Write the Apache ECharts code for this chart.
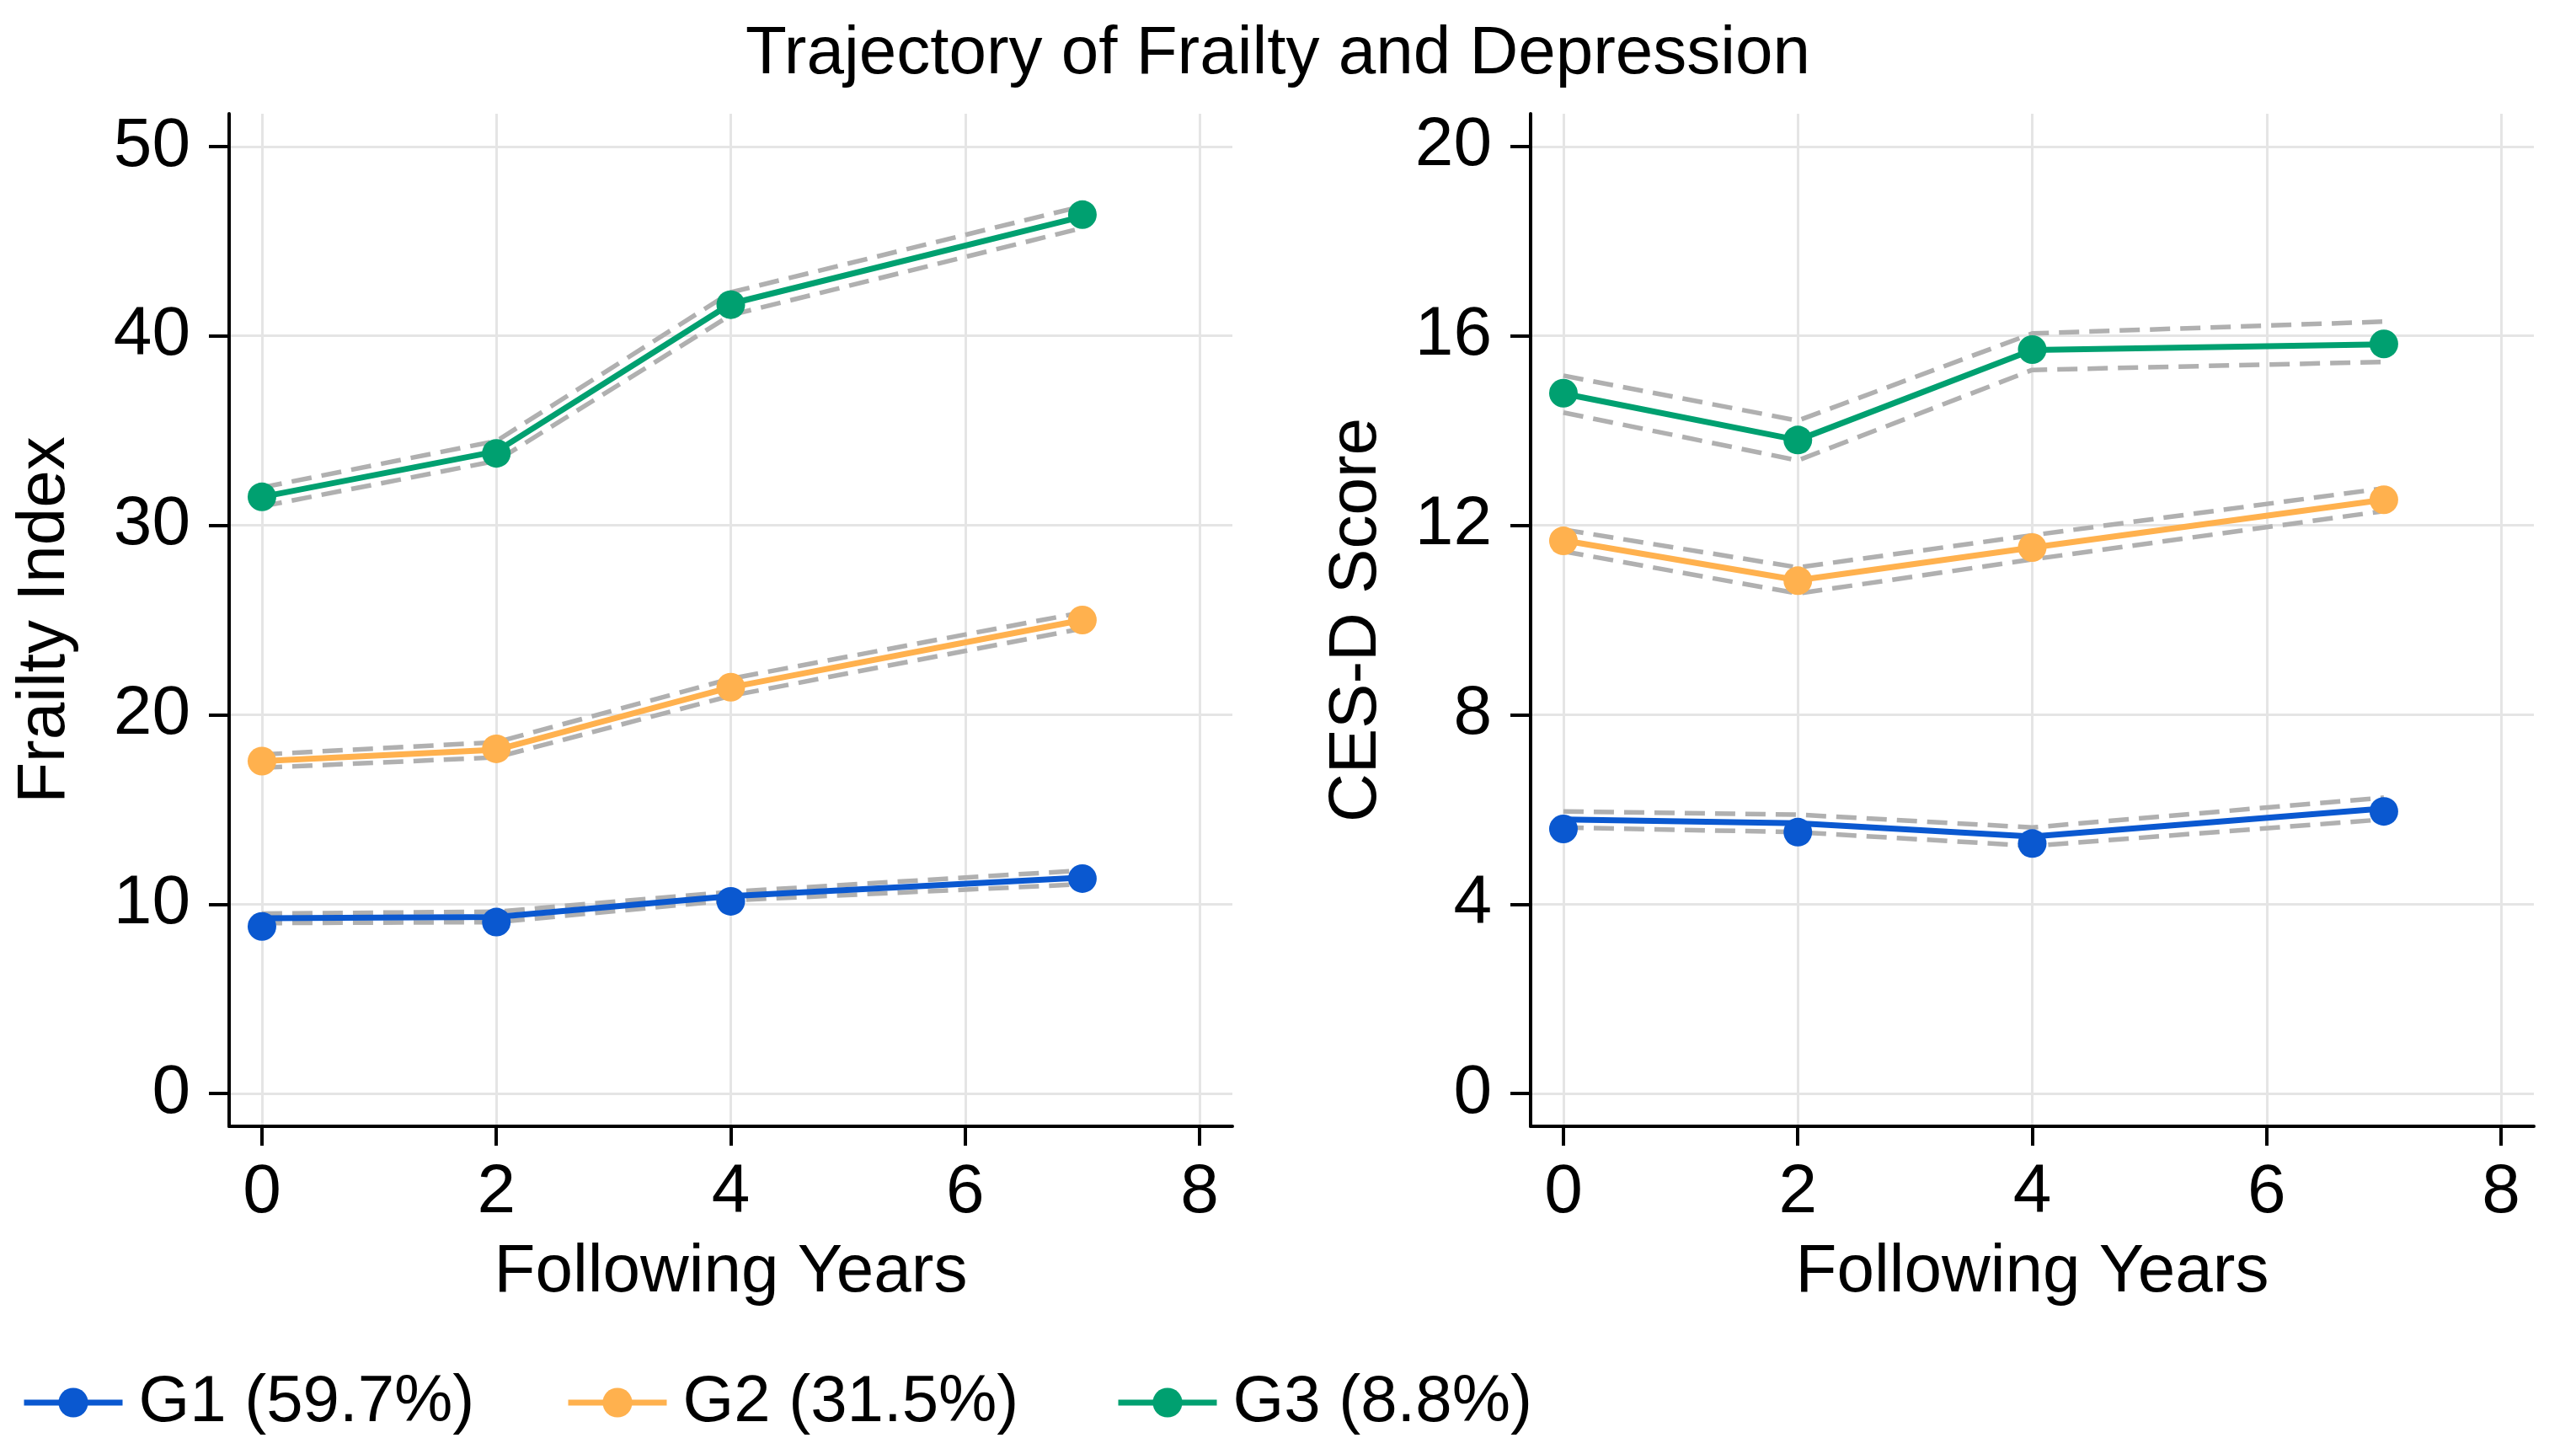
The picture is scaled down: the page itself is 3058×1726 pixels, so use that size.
<!DOCTYPE html>
<html>
<head>
<meta charset="utf-8">
<script src="https://cdn.jsdelivr.net/npm/echarts@6/dist/echarts.min.js"></script>
<style>
html,body{margin:0;padding:0;background:#fff;}
#chart{width:3058px;height:1726px;}
</style>
</head>
<body>
<div id="chart"></div>
<script>
// ---- data ----
const years = [0, 2, 4, 7];
const xTicks = [0, 2, 4, 6, 8];
const fiTicks = [0, 10, 20, 30, 40, 50];
const cesTicks = [0, 4, 8, 12, 16, 20];
const groupNames = ['G1 (59.7%)', 'G2 (31.5%)', 'G3 (8.8%)'];

// Frailty Index: observed means, fitted trajectory, 95% CI
const fiG1Obs = [8.82, 9.05, 10.15, 11.35];
const fiG1Fit = [9.25, 9.32, 10.42, 11.4];
const fiG1Up = [9.5, 9.6, 10.65, 11.78];
const fiG1Lo = [9.0, 9.05, 10.2, 11.05];
const fiG2Obs = [17.55, 18.2, 21.45, 25.0];
const fiG2Fit = [17.55, 18.15, 21.45, 25.0];
const fiG2Up = [17.9, 18.55, 21.9, 25.4];
const fiG2Lo = [17.2, 17.75, 21.0, 24.55];
const fiG3Obs = [31.5, 33.8, 41.65, 46.4];
const fiG3Fit = [31.5, 33.9, 41.7, 46.3];
const fiG3Up = [32.0, 34.45, 42.3, 46.85];
const fiG3Lo = [31.0, 33.4, 41.1, 45.7];

// CES-D Score
const cesG1Obs = [5.59, 5.52, 5.28, 5.96];
const cesG1Fit = [5.79, 5.71, 5.43, 6.02];
const cesG1Up = [5.96, 5.89, 5.62, 6.25];
const cesG1Lo = [5.62, 5.52, 5.23, 5.79];
const cesG2Obs = [11.67, 10.83, 11.53, 12.54];
const cesG2Fit = [11.68, 10.84, 11.53, 12.54];
const cesG2Up = [11.91, 11.11, 11.79, 12.78];
const cesG2Lo = [11.45, 10.56, 11.28, 12.30];
const cesG3Obs = [14.79, 13.80, 15.71, 15.83];
const cesG3Fit = [14.78, 13.8, 15.7, 15.82];
const cesG3Up = [15.16, 14.21, 16.05, 16.30];
const cesG3Lo = [14.38, 13.37, 15.28, 15.45];

// ---- styling ----
const colors = ['#0a58d0', '#ffb14e', '#00a070'];
const FONT = 'Liberation Sans, Arial, sans-serif';
const pair = (arr) => years.map((x, i) => [x, arr[i]]);

function xAxisFor(gi) {
  return {
    type: 'value', gridIndex: gi, min: -0.28, max: 8.28,
    axisLine: { onZero: false, lineStyle: { color: '#000', width: 4 } },
    axisTick: { show: true, inside: false, length: 23, customValues: xTicks, lineStyle: { color: '#000', width: 4 } },
    axisLabel: { customValues: xTicks, fontSize: 82, color: '#000', margin: 38, fontFamily: FONT },
    splitLine: { show: true, lineStyle: { color: '#e5e5e5', width: 3 } },
    name: 'Following Years', nameLocation: 'middle', nameGap: 134,
    nameTextStyle: { fontSize: 80, color: '#000', fontFamily: FONT }
  };
}
function yAxisFor(gi, min, max, ticks, name, gap) {
  return {
    type: 'value', gridIndex: gi, min: min, max: max,
    axisLine: { show: true, onZero: false, lineStyle: { color: '#000', width: 4 } },
    axisTick: { show: true, inside: false, length: 24, customValues: ticks, lineStyle: { color: '#000', width: 4 } },
    axisLabel: { customValues: ticks, fontSize: 82, color: '#000', margin: 46, fontFamily: FONT },
    splitLine: { show: true, lineStyle: { color: '#e5e5e5', width: 3 } },
    name: name, nameLocation: 'middle', nameGap: gap, nameRotate: 90,
    nameTextStyle: { fontSize: 80, color: '#000', fontFamily: FONT }
  };
}

const series = [];
function addGroup(gi, gIdx, obs, fit, up, lo) {
  const ciStyle = { color: '#b0b0b0', width: 5.5, type: [24, 12] };
  series.push({ type: 'line', name: 'ci' + gi + gIdx + 'u', xAxisIndex: gi, yAxisIndex: gi, data: pair(up), symbol: 'none', lineStyle: ciStyle, z: 2, silent: true });
  series.push({ type: 'line', name: 'ci' + gi + gIdx + 'l', xAxisIndex: gi, yAxisIndex: gi, data: pair(lo), symbol: 'none', lineStyle: ciStyle, z: 2, silent: true });
  series.push({ type: 'line', name: groupNames[gIdx], xAxisIndex: gi, yAxisIndex: gi, data: pair(fit), symbol: 'none', color: colors[gIdx], lineStyle: { color: colors[gIdx], width: 7 }, z: 3 });
  series.push({ type: 'scatter', name: groupNames[gIdx], xAxisIndex: gi, yAxisIndex: gi, data: pair(obs), symbol: 'circle', symbolSize: 34, itemStyle: { color: colors[gIdx], opacity: 1 }, z: 4 });
}
addGroup(0, 0, fiG1Obs, fiG1Fit, fiG1Up, fiG1Lo);
addGroup(0, 1, fiG2Obs, fiG2Fit, fiG2Up, fiG2Lo);
addGroup(0, 2, fiG3Obs, fiG3Fit, fiG3Up, fiG3Lo);
addGroup(1, 0, cesG1Obs, cesG1Fit, cesG1Up, cesG1Lo);
addGroup(1, 1, cesG2Obs, cesG2Fit, cesG2Up, cesG2Lo);
addGroup(1, 2, cesG3Obs, cesG3Fit, cesG3Up, cesG3Lo);

function legendFor(i, left) {
  return {
    data: [groupNames[i]], left: left, top: 1621, orient: 'horizontal',
    itemWidth: 117, itemHeight: 44, selectedMode: false,
    lineStyle: { width: 7 },
    textStyle: { fontSize: 78, color: '#000', fontFamily: FONT, padding: [0, 0, 0, 14] }
  };
}

const option = {
  animation: false,
  backgroundColor: '#fff',
  title: {
    text: 'Trajectory of Frailty and Depression',
    left: 1512, textAlign: 'center', top: 20,
    textStyle: { fontSize: 80, fontWeight: 'normal', color: '#000', fontFamily: FONT }
  },
  grid: [
    { left: 272, top: 135, width: 1191, height: 1202 },
    { left: 1817, top: 135, width: 1191, height: 1202 }
  ],
  xAxis: [xAxisFor(0), xAxisFor(1)],
  yAxis: [
    yAxisFor(0, -1.73, 51.73, fiTicks, 'Frailty Index', 178),
    yAxisFor(1, -0.69, 20.69, cesTicks, 'CES-D Score', 166)
  ],
  legend: [legendFor(0, 20), legendFor(1, 666), legendFor(2, 1319)],
  series: series
};

const chart = echarts.init(document.getElementById('chart'), null, { renderer: 'canvas' });
chart.setOption(option);
</script>
</body>
</html>
